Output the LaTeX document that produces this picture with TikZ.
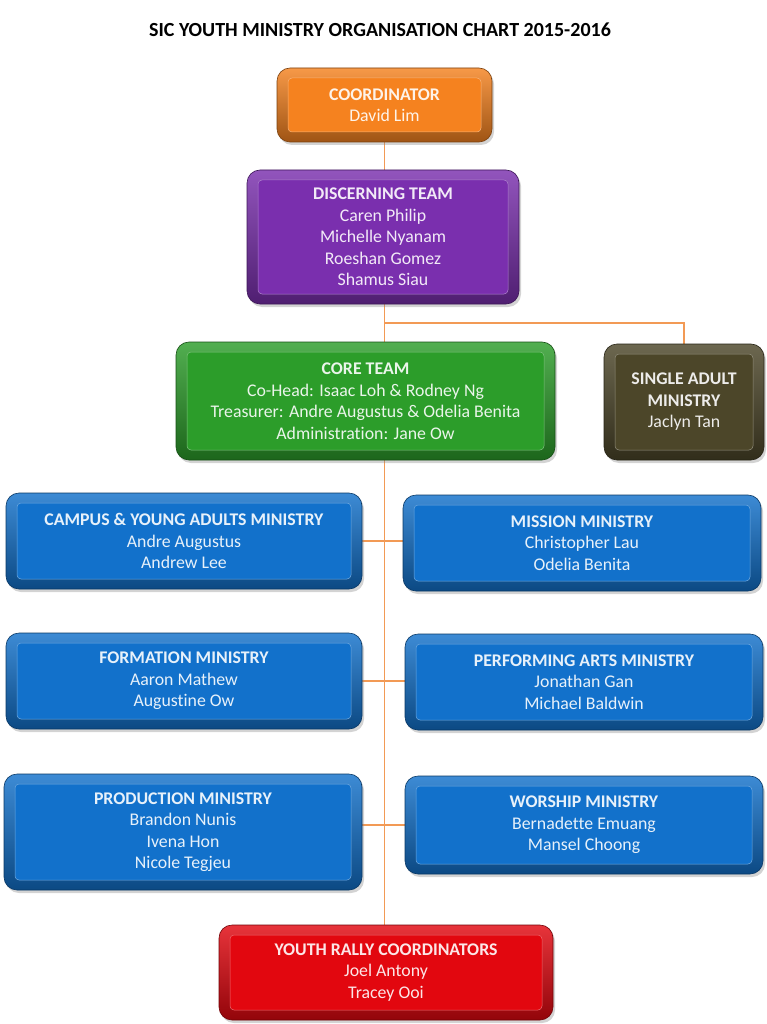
\documentclass[tikz,border=0pt]{standalone}
\usepackage{fontspec}
\setmainfont{Carlito}[Ligatures=NoCommon]
\usetikzlibrary{calc,shadows,backgrounds}
\definecolor{orng}  {HTML}{F5821F}
\definecolor{purp}  {HTML}{7A2FAE}
\definecolor{grn}   {HTML}{2C9D2A}
\definecolor{olive} {HTML}{4C4629}
\definecolor{blu}   {HTML}{1271CB}
\definecolor{rd}    {HTML}{E2070F}
\definecolor{linec} {HTML}{F29A55}
\tikzset{
  box/.style   = {rounded corners=13pt, align=center, inner sep=0pt,
                  text=white!90!#1, font=\fontsize{17.8}{21.5}\selectfont,
                  top color=#1!82!white, bottom color=#1!65!black,
                  draw=#1!50!black, line width=0.6pt,
                  drop shadow={opacity=0.35, shadow xshift=2pt, shadow yshift=-3pt},
                  path picture={\draw[fill=#1, draw=#1!60!white, line width=0.5pt,
                    rounded corners=4pt]
                    ($(path picture bounding box.south west)+(11,-10)$) rectangle
                    ($(path picture bounding box.north east)+(-11,10)$);}},
  link/.style  = {draw=linec, line width=1.5pt},
  ttl/.style   = {font=\bfseries\fontsize{20}{24}\selectfont, text=black},
}
\newcommand{\hd}[1]{\textbf{#1}}

\begin{document}
\begin{tikzpicture}[x=1pt, y=-1pt]
  \useasboundingbox (0,0) rectangle (766,1024);

  % header
  \node[ttl] (title) at (380,30) {SIC YOUTH MINISTRY ORGANISATION CHART 2015-2016};

  % leaders
  \node[box=orng, minimum width=215, minimum height=74] (coord) at (384.5,105)
    {\hd{COORDINATOR}\\David Lim};
  \node[box=purp, minimum width=272, minimum height=134] (disc) at (383,237)
    {\hd{DISCERNING TEAM}\\Caren Philip\\Michelle Nyanam\\Roeshan Gomez\\Shamus Siau};
  \node[box=grn, minimum width=379, minimum height=118] (core) at (365.5,401)
    {\hd{CORE TEAM}\\Co-Head: Isaac Loh \& Rodney Ng\\Treasurer: Andre Augustus \& Odelia Benita\\Administration: Jane Ow};
  \node[box=olive, minimum width=160, minimum height=116] (single) at (684,402)
    {\hd{SINGLE ADULT}\\\hd{MINISTRY}\\Jaclyn Tan};

  % ministries
  \node[box=blu, minimum width=356, minimum height=96] (campus) at (184,541)
    {\hd{CAMPUS \& YOUNG ADULTS MINISTRY}\\Andre Augustus\\Andrew Lee};
  \node[box=blu, minimum width=358, minimum height=96] (mission) at (582,543)
    {\hd{MISSION MINISTRY}\\Christopher Lau\\Odelia Benita};
  \node[box=blu, minimum width=356, minimum height=96] (form) at (184,681)
    {\hd{FORMATION MINISTRY}\\Aaron Mathew\\Augustine Ow};
  \node[box=blu, minimum width=358, minimum height=96] (perf) at (584,682)
    {\hd{PERFORMING ARTS MINISTRY}\\Jonathan Gan\\Michael Baldwin};
  \node[box=blu, minimum width=358, minimum height=116] (prod) at (183,832)
    {\hd{PRODUCTION MINISTRY}\\Brandon Nunis\\Ivena Hon\\Nicole Tegjeu};
  \node[box=blu, minimum width=358, minimum height=98] (worship) at (584,825)
    {\hd{WORSHIP MINISTRY}\\Bernadette Emuang\\Mansel Choong};

  % rally
  \node[box=rd, minimum width=334, minimum height=95] (rally) at (386,972.5)
    {\hd{YOUTH RALLY COORDINATORS}\\Joel Antony\\Tracey Ooi};

  % connectors
  \coordinate (split) at (384,323);
  \begin{scope}[on background layer]
    \draw[link] (coord.south) -- (coord.south |- rally.north);
    \draw[link] (split) -| (single.north);
    \draw[link] (campus.east) -- (campus.east -| mission.west);
    \draw[link] (form.east) -- (form.east -| perf.west);
    \draw[link] (worship.west -| prod.east) -- (worship.west);
  \end{scope}
\end{tikzpicture}
\end{document}
